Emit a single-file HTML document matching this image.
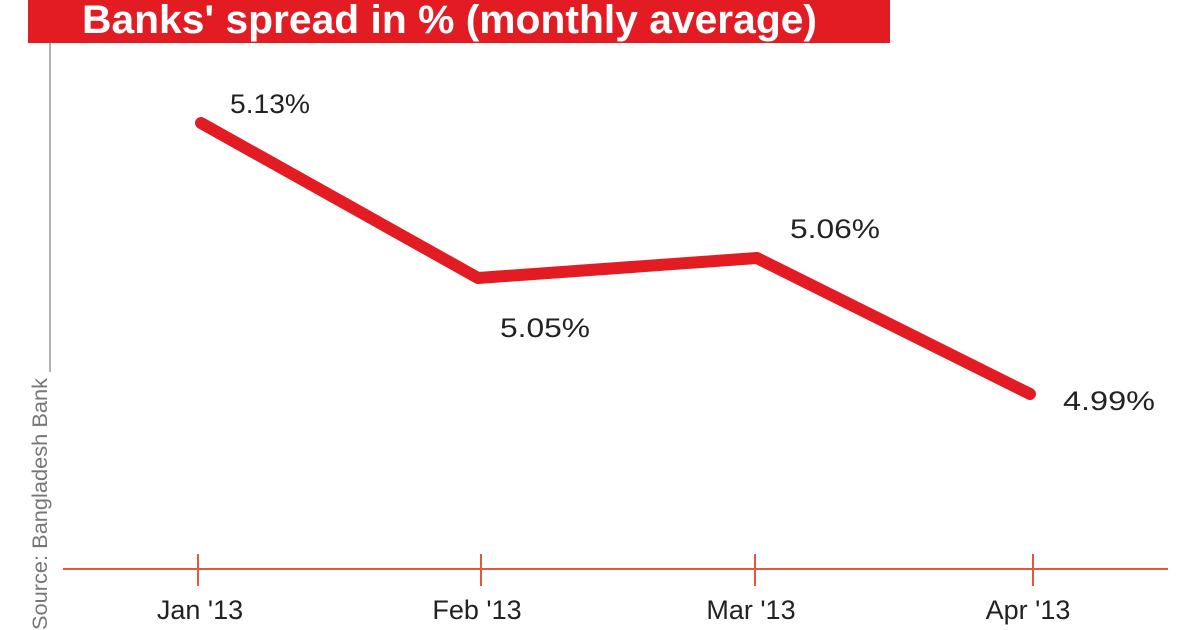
<!DOCTYPE html>
<html><head><meta charset="utf-8"><style>
html,body{margin:0;padding:0;background:#fff;width:1200px;height:630px;overflow:hidden}
</style></head><body>
<svg width="1200" height="630" xmlns="http://www.w3.org/2000/svg" font-family="'Liberation Sans',sans-serif">
<rect x="0" y="0" width="1200" height="630" fill="#fff"/>
<rect x="28" y="0" width="862" height="43" fill="#e31b22"/>
<text x="82" y="33" font-size="40" font-weight="bold" fill="#fff" textLength="735" lengthAdjust="spacingAndGlyphs">Banks' spread in % (monthly average)</text>
<line x1="50" y1="43" x2="50" y2="372" stroke="#999" stroke-width="1.5"/>
<text transform="translate(47,630) rotate(-90)" font-size="21" fill="#777" textLength="252" lengthAdjust="spacingAndGlyphs">Source: Bangladesh Bank</text>
<line x1="63" y1="569" x2="1168" y2="569" stroke="#e4573d" stroke-width="2"/>
<g stroke="#e4573d" stroke-width="2">
<line x1="198" y1="554" x2="198" y2="586"/>
<line x1="481" y1="554" x2="481" y2="586"/>
<line x1="755" y1="554" x2="755" y2="586"/>
<line x1="1033" y1="554" x2="1033" y2="586"/>
</g>
<polyline points="201,123 478,278 757,258 1030,394" fill="none" stroke="#e31b22" stroke-width="12" stroke-linecap="round" stroke-linejoin="round"/>
<g font-size="27" fill="#222">
<text x="230" y="113" textLength="80" lengthAdjust="spacingAndGlyphs">5.13%</text>
<text x="500" y="337" textLength="90" lengthAdjust="spacingAndGlyphs">5.05%</text>
<text x="790" y="238" textLength="90" lengthAdjust="spacingAndGlyphs">5.06%</text>
<text x="1063" y="410" textLength="92" lengthAdjust="spacingAndGlyphs">4.99%</text>
</g>
<g font-size="27" fill="#222" text-anchor="middle">
<text x="200" y="619">Jan '13</text>
<text x="477" y="619">Feb '13</text>
<text x="751" y="619">Mar '13</text>
<text x="1028" y="619">Apr '13</text>
</g>
</svg>
</body></html>
